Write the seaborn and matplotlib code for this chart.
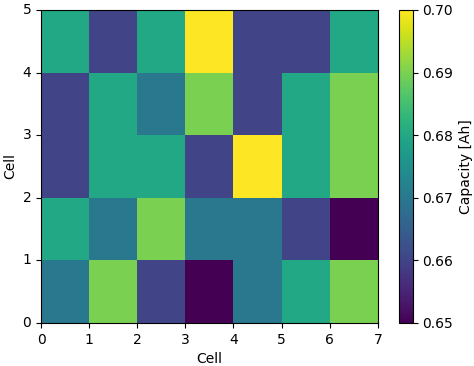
import numpy as np
import pandas as pd
import matplotlib
matplotlib.use("Agg")
import matplotlib.pyplot as plt
import seaborn as sns

# Capacity per cell, rows from bottom (y=0) to top (y=4), columns x=0..6
row_0 = [0.670, 0.690, 0.660, 0.650, 0.670, 0.680, 0.690]
row_1 = [0.680, 0.670, 0.690, 0.670, 0.670, 0.660, 0.650]
row_2 = [0.660, 0.680, 0.680, 0.660, 0.700, 0.680, 0.690]
row_3 = [0.660, 0.680, 0.670, 0.690, 0.660, 0.680, 0.690]
row_4 = [0.680, 0.660, 0.680, 0.700, 0.660, 0.660, 0.680]

x_ticks = [0, 1, 2, 3, 4, 5, 6, 7]
y_ticks = [0, 1, 2, 3, 4, 5]
cbar_ticks = [0.65, 0.66, 0.67, 0.68, 0.69, 0.70]

data = pd.DataFrame([row_0, row_1, row_2, row_3, row_4])

fig = plt.figure(figsize=(4.74, 3.66), dpi=100)
ax = fig.add_axes([0.0865, 0.1175, 0.7105, 0.8555])
cax = fig.add_axes([0.842, 0.1175, 0.029, 0.8555])

sns.heatmap(
    data,
    cmap="viridis",
    vmin=0.65,
    vmax=0.70,
    ax=ax,
    cbar_ax=cax,
    cbar_kws={"label": "Capacity [Ah]", "ticks": cbar_ticks},
)

# y grows upward like a plain pcolormesh
ax.set_ylim(0, 5)
ax.set_xlim(0, 7)
ax.set_xticks(x_ticks)
ax.set_xticklabels([str(t) for t in x_ticks], rotation=0)
ax.set_yticks(y_ticks)
ax.set_yticklabels([str(t) for t in y_ticks], rotation=0)
ax.set_xlabel("Cell")
ax.set_ylabel("Cell")
for s in ax.spines.values():
    s.set_visible(True)
    s.set_linewidth(0.8)

cax.set_yticklabels([f"{t:.2f}" for t in cbar_ticks])
cax.tick_params(length=3.5)
cbar = ax.collections[0].colorbar
cbar.outline.set_visible(True)
cbar.outline.set_linewidth(0.8)

fig.savefig("out.png", dpi=100)
